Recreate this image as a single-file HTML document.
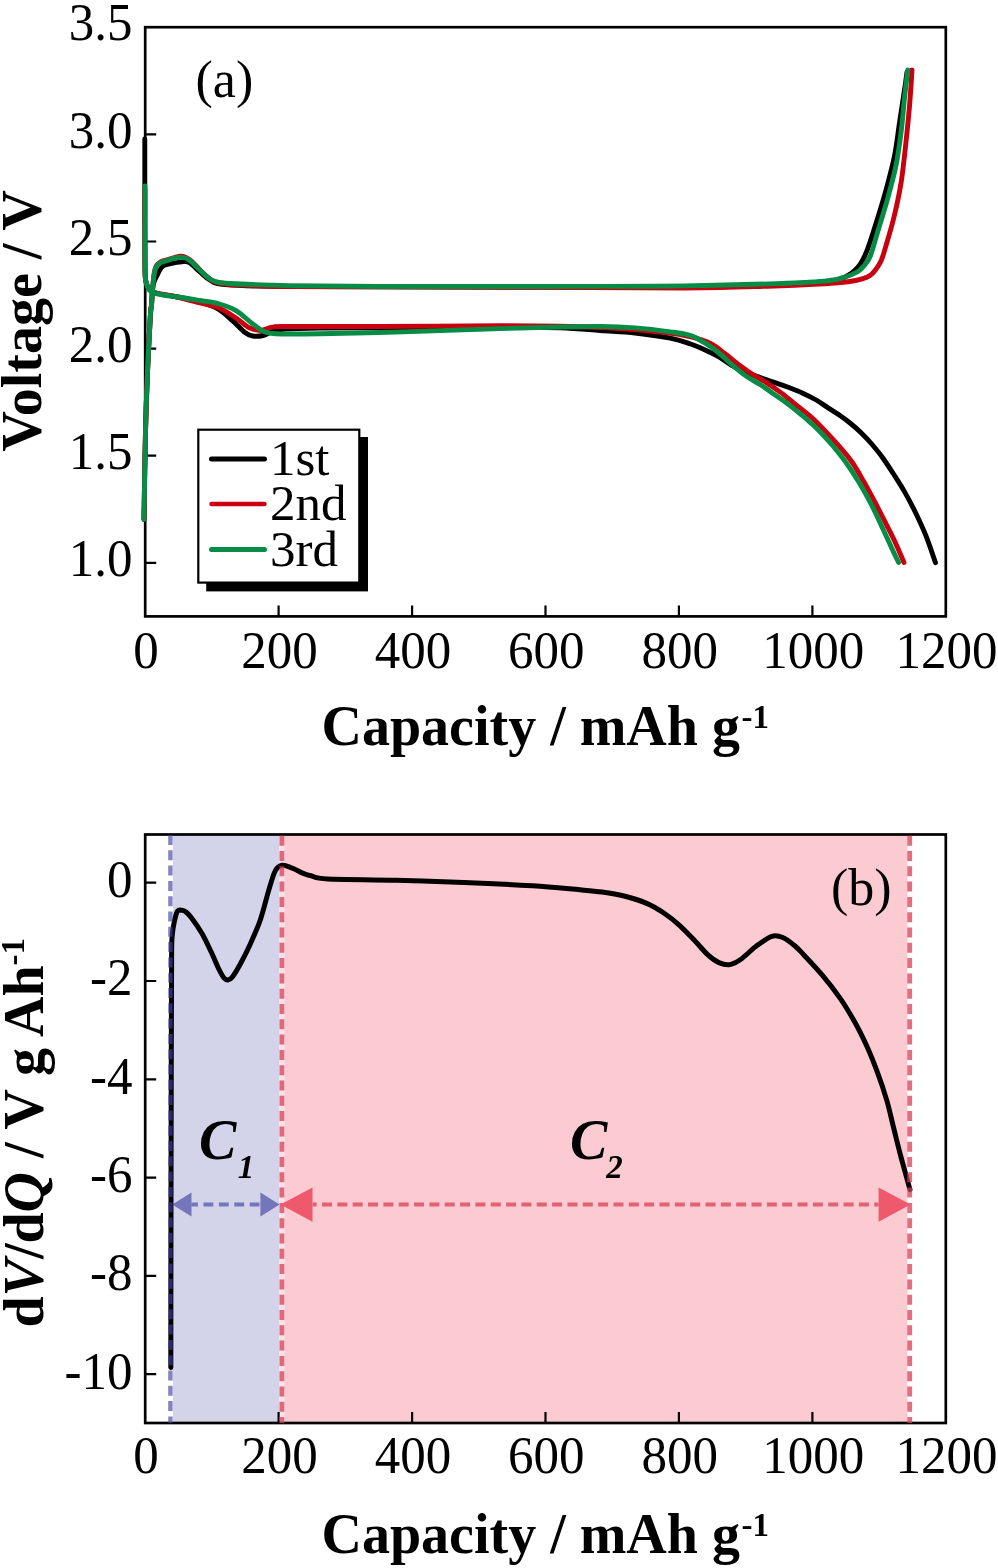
<!DOCTYPE html><html><head><meta charset="utf-8"><title>Figure</title><style>html,body{margin:0;padding:0;background:#fff;overflow:hidden;}svg{display:block;}</style></head><body>
<svg width="998" height="1568" viewBox="0 0 998 1568" font-family="'Liberation Serif', serif">
<rect width="998" height="1568" fill="#fff"/>
<rect x="172.9" y="834.5" width="106.5" height="588.5" fill="#d3d4ea"/>
<rect x="279.4" y="834.5" width="5" height="588.5" fill="#f6e2e8"/>
<rect x="284.4" y="834.5" width="623.1" height="588.5" fill="#fbcbd1"/>
<path d="M145.2 562.8H156.2 M145.2 455.7H156.2 M145.2 348.6H156.2 M145.2 241.5H156.2 M145.2 134.3H156.2 M278.6 616.4V605.4 M412.1 616.4V605.4 M545.5 616.4V605.4 M678.9 616.4V605.4 M812.4 616.4V605.4 M145.2 882.7H156.2 M145.2 981.0H156.2 M145.2 1079.3H156.2 M145.2 1177.6H156.2 M145.2 1275.9H156.2 M145.2 1374.2H156.2 M278.6 1423.0V1412.0 M412.1 1423.0V1412.0 M545.5 1423.0V1412.0 M678.9 1423.0V1412.0 M812.4 1423.0V1412.0" stroke="#000" stroke-width="2.2" fill="none"/>
<rect x="145.2" y="27.2" width="800.6" height="589.2" fill="none" stroke="#000" stroke-width="2.7"/>
<rect x="145.2" y="834.5" width="800.6" height="588.5" fill="none" stroke="#000" stroke-width="2.7"/>
<path d="M144.8 139.0C144.8 149.2 144.8 178.5 144.8 200.0C144.8 221.5 144.8 254.2 145.0 268.0C145.2 281.8 145.6 279.4 146.3 283.0C147.1 286.6 147.9 287.8 149.5 289.5C151.1 291.2 151.8 291.8 156.0 293.0C160.2 294.2 167.7 295.0 175.0 296.5C182.3 298.0 192.8 299.9 200.0 302.0C207.2 304.1 212.5 305.8 218.0 309.0C223.5 312.2 228.5 317.2 233.0 321.1C237.5 325.0 241.7 330.0 245.0 332.5C248.3 335.0 249.6 335.5 252.6 336.0C255.6 336.5 259.9 336.2 263.1 335.5C266.4 334.8 268.5 332.7 272.1 331.6C275.8 330.5 277.0 329.6 285.0 329.0C293.0 328.4 300.8 328.2 320.0 328.0C339.2 327.8 370.0 327.7 400.0 327.5C430.0 327.3 473.3 326.9 500.0 327.0C526.7 327.1 543.3 327.2 560.0 327.8C576.7 328.4 587.5 329.6 600.0 330.5C612.5 331.4 623.4 331.7 635.1 333.0C646.8 334.3 661.1 336.4 670.2 338.2C679.4 340.0 684.4 341.9 690.0 343.8C695.6 345.7 699.3 347.4 704.0 349.5C708.7 351.6 713.4 353.8 718.1 356.5C722.8 359.2 727.5 362.9 732.1 365.5C736.8 368.1 741.3 370.3 746.0 372.3C750.7 374.3 755.4 375.8 760.1 377.5C764.8 379.2 769.5 380.8 774.2 382.4C778.9 384.0 783.5 385.6 788.2 387.3C792.9 389.1 797.5 390.8 802.2 392.9C806.9 395.0 811.8 397.4 816.2 400.0C820.7 402.6 824.9 405.8 828.9 408.4C832.9 411.0 836.5 413.1 840.0 415.5C843.5 417.9 846.5 420.2 850.0 423.0C853.5 425.8 857.2 429.0 860.8 432.5C864.4 436.0 868.1 439.8 871.7 444.0C875.3 448.2 878.9 452.5 882.5 457.5C886.1 462.5 889.8 468.2 893.4 473.8C897.0 479.4 900.6 484.8 904.2 491.1C907.8 497.4 911.5 504.3 915.1 511.7C918.7 519.1 922.5 527.1 925.9 535.6C929.3 544.1 933.9 558.2 935.5 562.7" fill="none" stroke="#000" stroke-width="4.9" stroke-linejoin="round" stroke-linecap="round"/>
<path d="M144.0 519.4C144.2 504.7 144.9 455.6 145.5 431.4C146.1 407.2 146.6 393.1 147.4 374.0C148.2 354.9 149.6 328.1 150.3 316.6C151.0 305.1 151.1 309.4 151.5 305.0C151.9 300.6 152.1 293.8 152.5 290.0C152.9 286.2 153.1 284.8 154.0 282.0C154.9 279.2 156.5 276.2 158.0 273.5C159.5 270.8 160.5 267.7 163.0 266.0C165.5 264.3 169.5 263.9 173.0 263.2C176.5 262.5 181.2 261.6 184.0 261.6C186.8 261.6 187.3 261.3 190.0 263.0C192.7 264.7 196.7 269.2 200.0 272.0C203.3 274.8 205.8 277.9 210.0 280.0C214.2 282.1 211.7 283.4 225.0 284.5C238.3 285.6 244.2 286.1 290.0 286.5C335.8 286.9 434.3 286.9 500.0 287.0C565.7 287.1 639.3 287.4 684.0 287.0C728.7 286.6 744.7 285.3 768.0 284.5C791.3 283.7 811.2 283.2 824.0 282.0C836.8 280.8 839.3 279.5 845.0 277.0C850.7 274.5 854.5 271.3 858.0 267.2C861.5 263.1 863.2 259.8 866.3 252.3C869.3 244.8 873.0 232.9 876.3 222.4C879.6 211.9 883.2 200.4 886.2 189.3C889.2 178.2 892.3 167.2 894.5 156.1C896.7 145.0 897.8 134.0 899.5 122.9C901.2 111.9 903.2 98.3 904.5 89.8C905.8 81.3 906.6 75.0 907.0 72.0" fill="none" stroke="#000" stroke-width="4.9" stroke-linejoin="round" stroke-linecap="round"/>
<path d="M144.8 190.0C144.8 203.0 144.8 252.5 145.0 268.0C145.2 283.5 145.6 279.4 146.3 283.0C147.1 286.6 147.9 287.8 149.5 289.5C151.1 291.2 151.8 291.8 156.0 293.0C160.2 294.2 167.7 294.8 175.0 296.5C182.3 298.2 192.8 301.1 200.0 303.0C207.2 304.9 212.0 305.1 218.0 307.6C224.0 310.1 231.0 314.8 236.0 318.0C241.0 321.2 244.0 325.0 248.0 327.1C252.0 329.2 256.1 330.5 260.1 330.5C264.1 330.5 267.1 327.8 272.1 327.1C277.1 326.4 272.2 326.6 290.2 326.5C308.2 326.4 345.3 326.6 380.3 326.5C415.3 326.4 470.1 325.6 500.0 325.6C530.0 325.6 540.0 325.8 560.0 326.3C580.0 326.8 602.5 327.5 620.0 328.5C637.5 329.5 653.3 331.2 665.0 332.5C676.7 333.8 682.3 334.6 690.0 336.5C697.7 338.4 705.1 340.9 711.0 343.8C716.9 346.7 720.4 350.2 725.1 353.7C729.8 357.2 734.4 361.4 739.1 364.9C743.8 368.4 748.4 371.7 753.1 374.7C757.8 377.7 762.4 380.1 767.1 383.1C771.8 386.1 776.5 389.4 781.2 392.9C785.9 396.4 790.5 400.4 795.2 404.2C799.9 407.9 805.4 412.2 809.2 415.4C813.0 418.6 815.0 420.6 818.0 423.5C821.0 426.4 823.5 429.2 827.0 433.0C830.5 436.8 834.8 441.2 839.0 446.0C843.2 450.8 847.8 456.0 852.0 462.0C856.2 468.0 860.1 475.2 864.0 482.0C867.9 488.8 871.6 495.8 875.1 502.5C878.6 509.2 881.9 515.6 885.2 522.2C888.6 528.8 892.1 535.5 895.2 542.2C898.3 548.9 902.5 559.1 904.0 562.5" fill="none" stroke="#c8000f" stroke-width="4.9" stroke-linejoin="round" stroke-linecap="round"/>
<path d="M144.0 519.4C144.2 504.7 144.9 455.6 145.5 431.4C146.1 407.2 146.6 393.1 147.4 374.0C148.2 354.9 149.6 328.1 150.3 316.6C151.0 305.1 151.1 309.4 151.5 305.0C151.9 300.6 152.1 295.0 152.5 290.0C152.9 285.0 153.4 278.9 154.0 275.0C154.6 271.1 155.0 268.6 156.0 266.5C157.0 264.4 158.3 263.4 160.0 262.3C161.7 261.2 162.7 261.0 166.0 260.0C169.3 259.0 176.7 256.7 180.0 256.3C183.3 255.9 184.0 256.6 186.0 257.5C188.0 258.4 189.7 259.4 192.0 261.5C194.3 263.6 197.3 267.3 200.0 270.0C202.7 272.7 205.5 275.5 208.0 277.5C210.5 279.5 211.3 280.6 215.0 281.8C218.7 283.0 217.5 283.7 230.0 284.5C242.5 285.3 245.0 286.1 290.0 286.5C335.0 286.9 434.3 286.9 500.0 287.2C565.7 287.4 639.5 288.2 684.2 288.0C728.9 287.8 745.0 286.9 768.4 286.2C791.8 285.5 811.2 284.5 824.5 283.8C837.8 283.1 841.6 282.7 848.0 281.8C854.4 280.9 859.3 279.7 863.0 278.6C866.7 277.6 868.0 276.9 870.0 275.5C872.0 274.1 873.2 272.9 875.0 270.5C876.8 268.1 879.1 265.2 881.0 261.0C882.9 256.8 884.0 252.7 886.2 245.0C888.5 237.3 892.0 225.5 894.5 215.0C897.0 204.5 899.2 194.5 901.2 182.0C903.2 169.5 904.8 152.6 906.2 140.0C907.6 127.4 908.5 118.0 909.5 106.3C910.5 94.6 911.6 76.0 912.0 69.9" fill="none" stroke="#c8000f" stroke-width="4.9" stroke-linejoin="round" stroke-linecap="round"/>
<path d="M145.0 186.0C145.0 199.7 144.8 251.8 145.0 268.0C145.2 284.2 145.6 279.4 146.3 283.0C147.0 286.6 147.9 287.9 149.0 289.5C150.1 291.1 150.7 291.7 153.0 292.6C155.3 293.5 158.8 294.3 163.0 295.0C167.2 295.7 171.8 296.1 178.0 297.0C184.2 297.9 193.3 299.4 200.0 300.5C206.7 301.6 212.0 301.8 218.0 303.5C224.0 305.2 230.5 307.4 236.0 310.6C241.5 313.8 246.6 319.2 251.1 322.6C255.6 326.0 259.1 329.1 263.1 331.0C267.1 332.9 265.6 333.2 275.1 333.7C284.6 334.1 297.6 334.0 320.2 333.7C342.8 333.4 380.4 332.5 410.4 331.6C440.4 330.8 475.1 329.4 500.0 328.6C525.0 327.8 543.4 327.4 560.1 327.0C576.8 326.6 587.5 326.4 600.0 326.5C612.5 326.6 623.4 327.0 635.1 327.9C646.8 328.8 661.1 330.6 670.2 331.9C679.4 333.1 684.4 333.6 690.0 335.4C695.6 337.1 699.3 339.6 704.0 342.4C708.7 345.2 713.4 348.6 718.1 352.3C722.8 356.1 727.4 360.9 732.1 364.9C736.8 368.9 741.4 372.8 746.1 376.1C750.8 379.4 755.4 381.5 760.1 384.5C764.8 387.5 769.5 391.0 774.2 394.3C778.9 397.6 783.5 400.7 788.2 404.2C792.9 407.7 798.2 412.1 802.2 415.4C806.2 418.7 808.8 421.1 812.0 424.0C815.2 426.9 817.8 429.3 821.3 433.0C824.8 436.7 828.9 441.1 833.0 446.0C837.1 450.9 841.6 456.4 846.0 462.5C850.4 468.6 854.8 475.4 859.1 482.5C863.4 489.6 867.8 497.6 871.7 505.2C875.6 512.8 878.9 520.2 882.5 528.0C886.1 535.8 890.7 546.0 893.4 551.8C896.1 557.5 897.7 560.7 898.6 562.5" fill="none" stroke="#078c45" stroke-width="4.9" stroke-linejoin="round" stroke-linecap="round"/>
<path d="M144.0 519.4C144.2 504.7 144.9 455.6 145.5 431.4C146.1 407.2 146.6 393.1 147.4 374.0C148.2 354.9 149.6 328.1 150.3 316.6C151.0 305.1 151.1 309.4 151.5 305.0C151.9 300.6 152.1 295.0 152.5 290.0C152.9 285.0 153.4 278.8 154.0 275.0C154.6 271.2 155.0 269.0 156.0 267.0C157.0 265.0 158.3 264.0 160.0 263.0C161.7 262.0 163.0 261.7 166.0 260.8C169.0 259.9 174.7 257.9 178.0 257.5C181.3 257.1 183.7 257.5 186.0 258.3C188.3 259.1 189.7 260.3 192.0 262.3C194.3 264.3 197.3 267.8 200.0 270.3C202.7 272.8 205.5 275.6 208.0 277.5C210.5 279.4 211.3 280.4 215.0 281.4C218.7 282.4 217.5 282.8 230.0 283.5C242.5 284.2 265.1 285.1 290.2 285.6C315.2 286.1 345.3 286.4 380.3 286.5C415.3 286.6 463.4 286.5 500.0 286.5C536.6 286.5 569.3 286.5 600.0 286.4C630.7 286.3 656.1 286.3 684.2 285.9C712.3 285.5 745.0 284.7 768.4 283.9C791.8 283.1 811.9 282.2 824.5 281.1C837.1 280.0 838.4 279.0 844.0 277.4C849.6 275.8 854.5 273.6 858.0 271.5C861.5 269.4 862.9 267.2 865.0 264.5C867.1 261.8 868.3 261.1 870.5 255.5C872.7 249.9 875.1 240.3 878.0 230.7C880.9 221.0 884.9 208.6 887.9 197.6C890.9 186.6 894.0 175.5 896.2 164.4C898.4 153.3 899.8 142.3 901.2 131.2C902.6 120.1 903.4 108.2 904.5 98.0C905.6 87.8 907.2 74.6 907.8 69.9" fill="none" stroke="#078c45" stroke-width="4.9" stroke-linejoin="round" stroke-linecap="round"/>
<path d="M170.8 1367.5C170.8 1339.6 170.9 1252.9 171.0 1200.0C171.1 1147.1 171.2 1090.0 171.3 1050.0C171.4 1010.0 171.5 978.9 171.6 960.0C171.7 941.1 171.6 943.0 172.1 936.5C172.6 930.0 173.5 925.4 174.4 921.2C175.3 917.0 176.2 913.0 177.5 911.2C178.8 909.4 180.6 910.2 182.0 910.3C183.4 910.4 184.5 910.8 186.0 912.0C187.5 913.2 188.5 913.9 191.2 917.5C193.9 921.1 198.7 927.8 202.0 933.5C205.3 939.2 208.3 945.9 211.1 951.8C213.9 957.7 216.7 964.6 218.8 969.0C221.0 973.4 222.5 976.2 224.0 978.0C225.5 979.8 226.6 980.1 228.0 980.0C229.4 979.9 230.2 979.8 232.2 977.2C234.2 974.6 237.2 969.7 240.2 964.2C243.2 958.7 246.9 951.5 250.2 944.2C253.5 936.9 257.2 928.9 260.2 920.2C263.2 911.5 265.9 900.0 268.2 892.1C270.5 884.2 272.6 877.2 274.2 873.1C275.8 869.0 276.7 868.5 278.0 867.2C279.3 865.9 280.6 865.5 282.0 865.3C283.4 865.1 284.2 865.2 286.3 865.8C288.4 866.4 291.7 867.8 294.3 869.0C296.9 870.2 299.2 871.7 302.0 872.8C304.8 873.9 306.7 874.8 311.0 875.8C315.3 876.8 313.8 878.3 328.0 879.0C342.2 879.7 373.3 879.6 396.0 880.2C418.7 880.8 441.2 881.5 464.0 882.4C486.8 883.3 513.3 884.6 532.6 885.8C551.9 887.0 568.4 888.8 580.0 889.8C591.6 890.8 594.6 891.0 602.0 892.0C609.4 893.0 616.8 894.1 624.1 896.0C631.5 897.9 639.5 900.3 646.1 903.1C652.7 905.9 658.3 909.3 663.8 913.0C669.3 916.7 674.1 920.5 679.2 925.1C684.3 929.7 689.8 935.5 694.6 940.5C699.4 945.5 703.9 951.2 707.9 954.9C711.9 958.6 715.2 961.0 718.9 962.6C722.6 964.2 726.2 965.2 729.9 964.6C733.6 964.0 736.5 962.4 740.9 959.3C745.3 956.2 751.2 949.9 756.4 946.1C761.5 942.3 767.4 937.7 771.8 936.3C776.2 934.9 778.9 935.9 782.8 937.5C786.7 939.1 791.4 943.0 795.0 946.0C798.6 949.0 800.0 950.8 804.6 955.7C809.2 960.6 816.5 968.2 822.5 975.4C828.5 982.5 835.0 990.9 840.4 998.6C845.8 1006.3 850.1 1013.8 854.6 1021.8C859.1 1029.8 863.2 1038.2 867.1 1046.8C871.0 1055.4 874.6 1064.7 877.9 1073.6C881.2 1082.5 884.1 1091.2 886.8 1100.4C889.5 1109.6 891.5 1119.4 893.9 1128.9C896.3 1138.4 898.4 1147.4 901.1 1157.5C903.8 1167.6 908.5 1184.2 910.0 1189.6" fill="none" stroke="#000" stroke-width="5" stroke-linejoin="round" stroke-linecap="round"/>
<path d="M170.4 835V1423.0" stroke="rgb(64,66,160)" stroke-opacity="0.65" stroke-width="4.4" stroke-dasharray="10 5.3" fill="none"/>
<path d="M281.9 835.7V1423.0M909.7 835.7V1423.0" stroke="rgb(220,60,85)" stroke-opacity="0.75" stroke-width="4.8" stroke-dasharray="10 5.3" fill="none"/>
<path d="M191.5 1204.6H260.4" stroke="rgb(64,66,160)" stroke-opacity="0.65" stroke-width="4" stroke-dasharray="9.8 5.6" stroke-dashoffset="3.4" fill="none"/>
<path d="M172.2 1204.6L191.5 1192.6V1216.6Z M279.6 1204.6L260.4 1192.6V1216.6Z" fill="rgb(64,66,160)" fill-opacity="0.65"/>
<path d="M312.5 1204.6H878.6" stroke="rgb(220,60,85)" stroke-opacity="0.75" stroke-width="4" stroke-dasharray="10 5.34" stroke-dashoffset="5.84" fill="none"/>
<path d="M280.4 1204.6L312.5 1187.3999999999999V1221.8Z M910.6 1204.6L878.6 1187.3999999999999V1221.8Z" fill="rgb(238,90,108)"/>
<text x="199" y="1159" font-size="56" font-weight="bold" font-style="italic">C<tspan font-size="33" dx="1.5" dy="19">1</tspan></text>
<text x="570" y="1159" font-size="56" font-weight="bold" font-style="italic">C<tspan font-size="33" dx="-1" dy="19">2</tspan></text>
<rect x="206.2" y="437" width="161.8" height="154.4" fill="#000"/>
<rect x="198.3" y="429.7" width="161" height="152.9" fill="#fff" stroke="#000" stroke-width="2.2"/>
<path d="M211.5 459H264.5" stroke="#000" stroke-width="5" stroke-linecap="round"/>
<path d="M211.5 504H264.5" stroke="#c8000f" stroke-width="4.4" stroke-linecap="round"/>
<path d="M211.5 549.5H264.5" stroke="#078c45" stroke-width="5" stroke-linecap="round"/>
<text x="270" y="475.2" font-size="51">1st</text>
<text x="270" y="520" font-size="51">2nd</text>
<text x="270" y="565.7" font-size="51">3rd</text>
<text transform="translate(132.5,576.0) scale(1,1.045)" font-size="51" text-anchor="end">1.0</text>
<text transform="translate(132.5,468.9) scale(1,1.045)" font-size="51" text-anchor="end">1.5</text>
<text transform="translate(132.5,361.8) scale(1,1.045)" font-size="51" text-anchor="end">2.0</text>
<text transform="translate(132.5,254.7) scale(1,1.045)" font-size="51" text-anchor="end">2.5</text>
<text transform="translate(132.5,147.5) scale(1,1.045)" font-size="51" text-anchor="end">3.0</text>
<text transform="translate(132.5,40.4) scale(1,1.045)" font-size="51" text-anchor="end">3.5</text>
<text transform="translate(146.0,668.2) scale(1,1.045)" font-size="51" text-anchor="middle">0</text>
<text transform="translate(279.4,668.2) scale(1,1.045)" font-size="51" text-anchor="middle">200</text>
<text transform="translate(412.9,668.2) scale(1,1.045)" font-size="51" text-anchor="middle">400</text>
<text transform="translate(546.3,668.2) scale(1,1.045)" font-size="51" text-anchor="middle">600</text>
<text transform="translate(679.7,668.2) scale(1,1.045)" font-size="51" text-anchor="middle">800</text>
<text transform="translate(813.2,668.2) scale(1,1.045)" font-size="51" text-anchor="middle">1000</text>
<text transform="translate(946.6,668.2) scale(1,1.045)" font-size="51" text-anchor="middle">1200</text>
<text transform="translate(132.5,897.0) scale(1,1.045)" font-size="51" text-anchor="end">0</text>
<text transform="translate(132.5,995.3) scale(1,1.045)" font-size="51" text-anchor="end">-2</text>
<text transform="translate(132.5,1093.6) scale(1,1.045)" font-size="51" text-anchor="end">-4</text>
<text transform="translate(132.5,1191.9) scale(1,1.045)" font-size="51" text-anchor="end">-6</text>
<text transform="translate(132.5,1290.2) scale(1,1.045)" font-size="51" text-anchor="end">-8</text>
<text transform="translate(132.5,1388.5) scale(1,1.045)" font-size="51" text-anchor="end">-10</text>
<text transform="translate(146.0,1472.6) scale(1,1.045)" font-size="51" text-anchor="middle">0</text>
<text transform="translate(279.4,1472.6) scale(1,1.045)" font-size="51" text-anchor="middle">200</text>
<text transform="translate(412.9,1472.6) scale(1,1.045)" font-size="51" text-anchor="middle">400</text>
<text transform="translate(546.3,1472.6) scale(1,1.045)" font-size="51" text-anchor="middle">600</text>
<text transform="translate(679.7,1472.6) scale(1,1.045)" font-size="51" text-anchor="middle">800</text>
<text transform="translate(813.2,1472.6) scale(1,1.045)" font-size="51" text-anchor="middle">1000</text>
<text transform="translate(946.6,1472.6) scale(1,1.045)" font-size="51" text-anchor="middle">1200</text>
<text x="321.5" y="744.5" font-size="56" font-weight="bold">Capacity / mAh g<tspan font-size="33" dx="1.5" dy="-17">-1</tspan></text>
<text x="321.5" y="1552.6" font-size="56" font-weight="bold">Capacity / mAh g<tspan font-size="33" dx="1.5" dy="-17">-1</tspan></text>
<text transform="translate(41.2,451.5) rotate(-90)" font-size="56" font-weight="bold">Voltage / V</text>
<text transform="translate(42.5,1327.6) rotate(-90)" font-size="56" font-weight="bold">d<tspan font-style="italic">V</tspan>/d<tspan font-style="italic">Q</tspan> / V g Ah<tspan font-size="33" dy="-18.5">-1</tspan></text>
<text x="195.5" y="97" font-size="52">(a)</text>
<text x="831" y="905" font-size="52">(b)</text>
</svg></body></html>
